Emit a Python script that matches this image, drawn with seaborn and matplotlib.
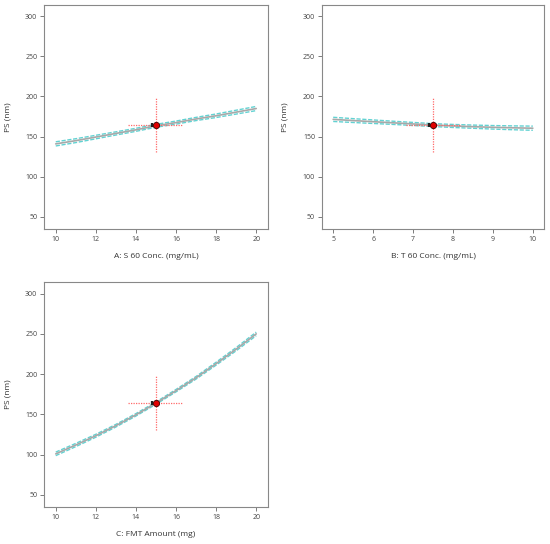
import numpy as np
import pandas as pd
import matplotlib
matplotlib.use("Agg")
import matplotlib.pyplot as plt
import matplotlib.transforms as mtransforms
import seaborn as sns

# factor levels and predicted PS (nm)
a_conc = [10, 11, 12, 13, 14, 15, 16, 17, 18, 19, 20]
a_ps = [141, 145, 149.5, 154, 158.5, 163.5, 167.5, 172, 176, 180.5, 185]
a_ci = [2.6, 2.4, 2.2, 2.0, 1.9, 1.8, 1.9, 2.0, 2.2, 2.4, 2.6]

b_conc = [5, 5.5, 6, 6.5, 7, 7.5, 8, 8.5, 9, 9.5, 10]
b_ps = [171.5, 170.0, 168.6, 167.2, 165.8, 164.4, 163.3, 162.4, 161.6, 161.0, 160.5]
b_ci = [2.6, 2.4, 2.2, 2.0, 1.9, 1.8, 1.9, 2.0, 2.2, 2.4, 2.6]

c_amt = [10, 11, 12, 13, 14, 15, 16, 17, 18, 19, 20]
c_ps = [101, 112, 123.5, 136, 149.5, 164, 179.5, 195.5, 213, 231, 250]
c_ci = [2.2, 2.0, 1.8, 1.6, 1.5, 1.4, 1.5, 1.6, 1.8, 2.0, 2.2]

# centre point and its red crosshair
centre_x = [15, 7.5, 15]
centre_y = [164, 164, 164]
cross_x = [(13.62, 16.33), (6.82, 8.17), (13.62, 16.33)]
cross_y = (131, 198)

x_labels = ["A: S 60 Conc. (mg/mL)", "B: T 60 Conc. (mg/mL)", "C: FMT Amount (mg)"]
x_ticks = [[10, 12, 14, 16, 18, 20], [5, 6, 7, 8, 9, 10], [10, 12, 14, 16, 18, 20]]
x_lims = [(9.43, 20.57), (4.72, 10.28), (9.43, 20.57)]
y_ticks = [50, 100, 150, 200, 250, 300]

sns.set_style("white")
plt.rcParams["font.family"] = ["Open Sans", "DejaVu Sans"]

fig = plt.figure(figsize=(5.5, 5.44), dpi=100)
positions = [[0.0806, 0.579, 0.406, 0.412],
             [0.5855, 0.579, 0.4036, 0.412],
             [0.0806, 0.068, 0.406, 0.413]]

series = [(a_conc, a_ps, a_ci), (b_conc, b_ps, b_ci), (c_amt, c_ps, c_ci)]

for i, (xs, ps, ci) in enumerate(series):
    ax = fig.add_axes(positions[i])
    df = pd.DataFrame({"x": xs, "ps": ps,
                       "lo": np.array(ps) - np.array(ci),
                       "hi": np.array(ps) + np.array(ci)})
    # confidence band edges (dashed cyan) and the prediction line
    sns.lineplot(data=df, x="x", y="lo", ax=ax, color="#62d2d2", lw=1.0,
                 linestyle=(0, (3, 1.2)))
    sns.lineplot(data=df, x="x", y="hi", ax=ax, color="#62d2d2", lw=1.0,
                 linestyle=(0, (3, 1.2)))
    sns.lineplot(data=df, x="x", y="ps", ax=ax, color="#a8a8a8", lw=1.2)

    # red dotted crosshair at the centre point
    ax.plot([centre_x[i], centre_x[i]], cross_y, color="#ff6a6a", lw=0.9,
            linestyle=(0, (1, 1)), zorder=4)
    ax.plot(cross_x[i], [centre_y[i], centre_y[i]], color="#ff6a6a", lw=0.9,
            linestyle=(0, (1, 1)), zorder=4)

    # design point marker with small run-count tag
    shift = mtransforms.offset_copy(ax.transData, fig=fig, x=-4, y=0, units="dots")
    ax.plot(centre_x[i], centre_y[i], marker="|", ms=3.5, mew=1.6, color="#222222",
            transform=shift, zorder=5)
    ax.plot(centre_x[i], centre_y[i], marker="o", ms=4.5, mfc="#e00000",
            mec="#400000", mew=0.6, zorder=6)

    ax.set_xlim(x_lims[i])
    ax.set_ylim(35, 314)
    ax.set_xticks(x_ticks[i])
    ax.set_yticks(y_ticks)
    ax.set_xlabel(x_labels[i], fontsize=6, color="#333333", labelpad=7)
    ax.set_ylabel("PS (nm)", fontsize=6, color="#333333", labelpad=10)
    ax.tick_params(axis="both", direction="out", length=3, width=0.6,
                   color="#666666", labelsize=5, labelcolor="#444444", pad=2,
                   bottom=True, left=True)
    for sp in ax.spines.values():
        sp.set_color("#888888")
        sp.set_linewidth(0.8)

fig.savefig("out.png", dpi=100, facecolor="white")
